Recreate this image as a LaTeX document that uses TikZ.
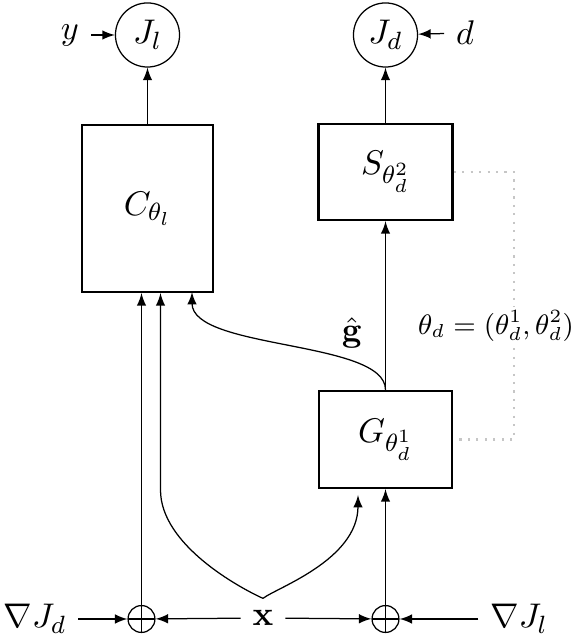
\documentclass[tikz,border=0pt,11pt]{standalone}
\usepackage{amsmath}

\begin{document}
\begin{tikzpicture}[x=0.32pt, y=0.32pt, >=latex,
    blk/.style={draw, thick, inner sep=0pt},
    loss/.style={draw, circle, minimum size=20.5pt, inner sep=0pt},
    sumnode/.style={draw, circle, minimum size=8.6pt, inner sep=0pt,
      path picture={\draw (path picture bounding box.north) -- (path picture bounding box.south)
                          (path picture bounding box.west) -- (path picture bounding box.east);}},
    param/.style={dotted, gray!45, line width=0.7pt}]
      \useasboundingbox (0,0) rectangle (583,639);
      % losses
      \node[loss] (Jl) at (147.5,604) {$J_l$};
      \node[loss] (Jd) at (385.5,604) {$J_d$};
      \node (y) at (70,604) {$y$};
      \node (d) at (465,606) {$d$};
      % networks
      \node[blk, minimum width=41.9pt, minimum height=53.4pt] (C) at (147.5,430.5) {$C_{\theta_l}$};
      \node[blk, minimum width=42.9pt, minimum height=30.7pt] (S) at (385.5,467) {$S_{\theta_d^2}$};
      \node[blk, minimum width=42.6pt, minimum height=31pt]   (G) at (385.5,199.5) {$G_{\theta_d^1}$};
      % inputs
      \node[sumnode] (sumL) at (141.5,20) {};
      \node[sumnode] (sumR) at (385.5,20) {};
      \node (x) at (263,21) {$\mathbf{x}$};
      \node (gJd) at (35,20) {$\nabla J_d$};
      \node (gJl) at (519,20) {$\nabla J_l$};
      \coordinate (ghatend) at (192,347);
      \coordinate (xleft) at (160.5,149);
      \coordinate (xright) at (358,144);

      \draw[->] (y) -- (Jl);
      \draw[->] (d) -- (Jd);
      \draw[->] (C) -- (Jl);
      \draw[->] (S) -- (Jd);
      \draw[->] (G) -- (S);
      \draw[->] (G.north) .. controls (385.5,299) and (192,289) .. (ghatend);
      \node (ghat) at (352,306) {$\hat{\mathbf{g}}$};

      \draw[->] (gJd) -- (sumL);
      \draw[->] (gJl) -- (sumR);
      \draw[->] (x) -- (sumL);
      \draw[->] (x) -- (sumR);
      \draw[->] (sumL.north) -- (sumL.north |- C.south);
      \draw[->] (sumR.north) -- (sumR.north |- G.south);
      \draw[->] (x.north) .. controls (240,51) and (160.5,94) .. (xleft) -- (xleft |- C.south);
      \draw[->] (x.north) .. controls (276,51) and (358,79) .. (xright);

      % shared parameters
      \draw[param] (S.east) -- ++(60,0) |- (G.east);
      \node[fill=white, inner sep=1pt, font=\footnotesize] (theta) at (496,313) {$\theta_d = (\theta_d^1, \theta_d^2)$};
    \end{tikzpicture}
\end{document}
